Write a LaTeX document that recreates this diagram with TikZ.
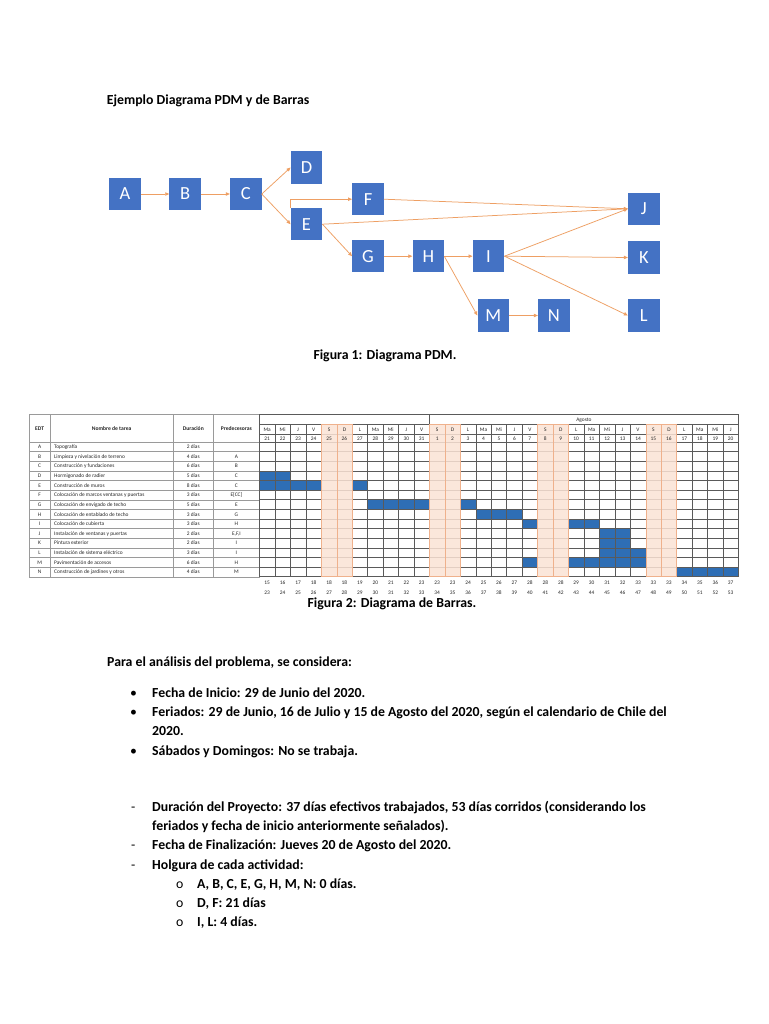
\documentclass[tikz,border=0pt]{standalone}
\usepackage{fontspec}
\setmainfont{Carlito}
\usepackage{tikz}
\usetikzlibrary{arrows.meta,positioning}

\definecolor{pdmblue}{HTML}{4472C4}
\definecolor{pdmline}{HTML}{EE9F63}
\definecolor{barblue}{HTML}{2E6EB5}
\definecolor{wkfill}{HTML}{FBE3D5}
\definecolor{wkedge}{HTML}{EFB18C}
\definecolor{gridc}{HTML}{5A5A5A}
\definecolor{tabline}{HTML}{9A9A9A}

\begin{document}
\begin{tikzpicture}[x=1pt, y=-1pt,
    task/.style={rectangle, fill=pdmblue, text=white, inner sep=0pt,
        minimum width=31.5pt, minimum height=32.3pt, font=\fontsize{18.5}{19}\selectfont},
    link/.style={draw=pdmline, line width=0.75pt, -{Triangle[length=4pt, width=3.4pt]}},
    body/.style={anchor=base west, inner sep=0pt, font=\fontsize{13.8}{16}\selectfont\bfseries},
    caption/.style={anchor=base, inner sep=0pt, font=\fontsize{13.8}{16}\selectfont\bfseries},
    cell/.style={inner sep=0pt, anchor=base, font=\fontsize{5.4}{6}\selectfont, text=black!85},
    head/.style={cell, font=\fontsize{5.6}{6}\selectfont\bfseries},
    bar/.style={fill=barblue},
    wkend/.style={fill=wkfill, fill opacity=0.85, draw=wkedge, line width=0.5pt}]

    \fill[white] (0,0) rectangle (768,1024);
    \useasboundingbox (0,0) rectangle (768,1024);

    \node[body] (title) at (106.7,104.5) {Ejemplo Diagrama PDM y de Barras};

    % diagrama PDM
    \node[task] (A) at (125,194) {A};
    \node[task] (B) at (185.2,194) {B};
    \node[task] (C) at (245.8,194) {C};
    \node[task] (D) at (306.5,167.5) {D};
    \node[task] (E) at (306.5,224.2) {E};
    \node[task] (F) at (368,199.2) {F};
    \node[task] (G) at (368,256.2) {G};
    \node[task] (H) at (428.3,256.2) {H};
    \node[task] (I) at (488.5,256.2) {I};
    \node[task] (M) at (493.3,315.5) {M};
    \node[task] (N) at (553.8,315.5) {N};
    \node[task] (J) at (643.8,208.8) {J};
    \node[task] (K) at (643.8,257.5) {K};
    \node[task] (L) at (643.8,315.5) {L};

    \draw[link] (A) -- (B);
    \draw[link] (B) -- (C);
    \draw[link] (C.east) -- (D.west);
    \draw[link] (C.east) -- (E.west);
    \draw[link] (E.north west) |- (F.west);
    \draw[link] (E.east) -- (G.west);
    \draw[link] (E.east) -- (J.west);
    \draw[link] (F.east) -- (J.west);
    \draw[link] (G) -- (H);
    \draw[link] (H) -- (I);
    \draw[link] (H.east) -- (M.west);
    \draw[link] (I.east) -- (J.west);
    \draw[link] (I.east) -- (K.west);
    \draw[link] (I.east) -- (L.west);
    \draw[link] (M) -- (N);

    \node[caption] (fig1) at (385,359) {Figura 1: Diagrama PDM.};

    % tabla de tareas
    \draw[tabline] (29.3,414.3) rectangle (259.5,576.7);
    \foreach \x in {50,173.3,213.3} \draw[tabline] (\x,414.3) -- (\x,576.7);
    \foreach \r in {0,...,13} \draw[tabline] (29.3,{442+9.62*\r}) -- (259.5,{442+9.62*\r});

    \node[head] (hedt) at (39.6,430) {EDT};
    \node[head] (hname) at (111.6,430) {Nombre de tarea};
    \node[head] (hdur) at (193.3,430) {Duración};
    \node[head] (hpred) at (236.4,430) {Predecesoras};

    \foreach \id/\name/\dur/\pred [count=\r from 0] in {
        A/Topografía/2 días/{},
        B/Limpieza y nivelación de terreno/4 días/A,
        C/Construcción y fundaciones/6 días/B,
        D/Hormigonado de radier/5 días/C,
        E/Construcción de muros/8 días/C,
        F/Colocación de marcos ventanas y puertas/3 días/{E[CC]},
        G/Colocación de envigado de techo/5 días/E,
        H/Colocación de entablado de techo/3 días/G,
        I/Colocación de cubierta/3 días/H,
        J/Instalación de ventanas y puertas/2 días/{E,F,I},
        K/Pintura exterior/2 días/I,
        L/Instalación de sistema eléctrico/3 días/I,
        M/Pavimentación de accesos/6 días/H,
        N/Construcción de jardines y otros/4 días/M} {
        \node[cell] (edt\id) at (39.6,{448.7+9.62*\r}) {\id};
        \node[cell, anchor=base west] (name\id) at (54,{448.7+9.62*\r}) {\name};
        \node[cell] (dur\id) at (193.3,{448.7+9.62*\r}) {\dur};
        \node[cell] (pred\id) at (236.4,{448.7+9.62*\r}) {\pred};
    }

    % barras
    \foreach \r/\a/\b in {3/0/1, 4/0/3, 4/6/6, 6/7/10, 6/13/13, 7/14/16, 8/17/17, 8/20/21,
        9/22/23, 10/22/23, 11/22/24, 12/17/17, 12/20/24, 13/27/30}
        \fill[bar] ({259.5+15.45*\a},{442+9.62*\r}) rectangle ({259.5+15.45*(\b+1)},{442+9.62*(\r+1)});

    % cuadricula de dias
    \draw[gridc, line width=0.5pt] (259.5,414.3) rectangle (738.5,576.7);
    \foreach \y in {424,434} \draw[gridc, line width=0.5pt] (259.5,\y) -- (738.5,\y);
    \foreach \r in {0,...,13} \draw[gridc, line width=0.5pt] (259.5,{442+9.62*\r}) -- (738.5,{442+9.62*\r});
    \foreach \c in {1,...,30} \draw[gridc, line width=0.5pt] ({259.5+15.45*\c},424) -- ({259.5+15.45*\c},576.7);
    \draw[gridc, line width=0.5pt] ({259.5+15.45*11},414.3) -- ({259.5+15.45*11},424);

    % sabados y domingos
    \foreach \c in {4,5,11,12,18,19,25,26}
        \draw[wkend] ({259.5+15.45*\c},424) rectangle ({259.5+15.45*(\c+1)},576.7);

    \node[cell] (agosto) at (583.9,421.6) {Agosto};
    \foreach \dl/\dn/\wk [count=\c from 0] in {Ma/21/15, Mi/22/16, J/23/17, V/24/18, S/25/18,
        D/26/18, L/27/19, Ma/28/20, Mi/29/21, J/30/22, V/31/23, S/1/23, D/2/23, L/3/24, Ma/4/25,
        Mi/5/26, J/6/27, V/7/28, S/8/28, D/9/28, L/10/29, Ma/11/30, Mi/12/31, J/13/32, V/14/33,
        S/15/33, D/16/33, L/17/34, Ma/18/35, Mi/19/36, J/20/37} {
        \pgfmathtruncatemacro{\cd}{23+\c}
        \node[cell] (dl\c) at ({267.2+15.45*\c},431.3) {\dl};
        \node[cell] (dn\c) at ({267.2+15.45*\c},440) {\dn};
        \node[cell] (wk\c) at ({267.2+15.45*\c},584) {\wk};
        \node[cell] (cd\c) at ({267.2+15.45*\c},594) {\cd};
    }

    \node[caption] (fig2) at (392,607) {Figura 2: Diagrama de Barras.};

    % texto
    \node[body] (para) at (107,666.5) {Para el análisis del problema, se considera:};
    \node[body] (b1) at (130,697) {\mdseries\textbullet};
    \node[body] (t1) at (152,697) {Fecha de Inicio: 29 de Junio del 2020.};
    \node[body] (b2) at (130,716.5) {\mdseries\textbullet};
    \node[body] (t2) at (152,716.5) {Feriados: 29 de Junio, 16 de Julio y 15 de Agosto del 2020, según el calendario de Chile del};
    \node[body] (t2b) at (152,735.5) {2020.};
    \node[body] (b3) at (130,755) {\mdseries\textbullet};
    \node[body] (t3) at (152,755) {Sábados y Domingos: No se trabaja.};

    \node[body] (d1) at (131,811.5) {\mdseries -};
    \node[body] (u1) at (152,811.5) {Duración del Proyecto: 37 días efectivos trabajados, 53 días corridos (considerando los};
    \node[body] (u1b) at (152,830.5) {feriados y fecha de inicio anteriormente señalados).};
    \node[body] (d2) at (131,849.5) {\mdseries -};
    \node[body] (u2) at (152,849.5) {Fecha de Finalización: Jueves 20 de Agosto del 2020.};
    \node[body] (d3) at (131,869) {\mdseries -};
    \node[body] (u3) at (152,869) {Holgura de cada actividad:};
    \node[body] (o1) at (176,888) {\mdseries o};
    \node[body] (v1) at (197,888) {A, B, C, E, G, H, M, N: 0 días.};
    \node[body] (o2) at (176,907) {\mdseries o};
    \node[body] (v2) at (197,907) {D, F: 21 días};
    \node[body] (o3) at (176,926) {\mdseries o};
    \node[body] (v3) at (197,926) {I, L: 4 días.};
\end{tikzpicture}
\end{document}
